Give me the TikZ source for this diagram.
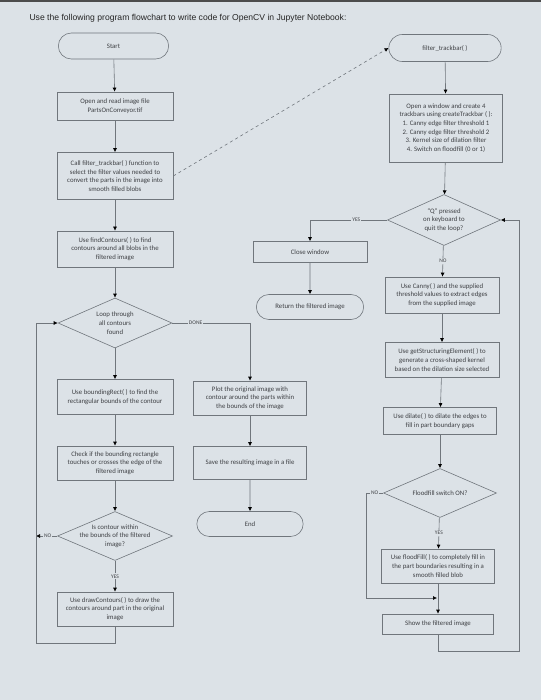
\documentclass[tikz,border=0pt]{standalone}
\usepackage{fontspec}
\setmainfont{Carlito}
\newfontfamily\titlefont{Liberation Sans}
\usetikzlibrary{
    positioning,       % Required for relative placement
    arrows.meta,       % Required for "Latex" arrowheads
    shapes.geometric,  % Required for the diamond decisions
    shapes.misc        % Required for the rounded terminators
}
\definecolor{paper}{RGB}{220,226,231}
\definecolor{edge}{RGB}{112,118,124}
\definecolor{ink}{RGB}{62,64,68}

\begin{document}
\begin{tikzpicture}[
        x=1pt, y=-1pt,
        >={Latex[length=4pt,width=4pt,black]},
        % Styles
        box/.style={rectangle, draw=edge, line width=0.6pt, text=ink, align=center, inner sep=2pt, minimum width=116pt, font=\fontsize{6.8}{8.7}\selectfont},
        term/.style={rounded rectangle, draw=edge, line width=0.6pt, text=ink, minimum width=116pt, minimum height=26pt, font=\fontsize{6.8}{8.7}\selectfont},
        decision/.style={diamond, draw=edge, line width=0.6pt, text=ink, align=center, aspect=2.35, inner xsep=0pt, inner ysep=-6pt, minimum width=114pt, minimum height=50pt, font=\fontsize{6.8}{8.7}\selectfont},
        flow/.style={->, draw=edge, line width=0.6pt},
        hint/.style={->, draw=edge, dashed, line width=0.6pt},
        tag/.style={fill=paper, text=ink, inner sep=1pt, font=\fontsize{5.5}{6}\selectfont}
    ]

    % --- Page ---
    \fill[paper] (0,0) rectangle (541,700);
    \useasboundingbox (0,0) rectangle (541,700);
    \fill[black!70] (0,0) rectangle (541,2);
    \node[anchor=west, font=\titlefont\fontsize{8.6}{10}\selectfont, text=black!85] (title) at (26,18)
        {Use the following program flowchart to write code for OpenCV in Jupyter Notebook:};

    % --- Coordinates ---
    \coordinate (noend) at (36,536);     % NO arrow meets the loop-back line
    \coordinate (loopback) at (36,643);  % Bottom-left corner of the contour loop
    \coordinate (nobend) at (366,493);   % Floodfill NO turns down here
    \coordinate (merge) at (438,598);    % NO branch joins above "Show"
    \coordinate (backright) at (519,651);% Bottom-right corner of the trackbar loop

    % --- 1. Main program (left column) ---
    \node[term, minimum width=117pt] (start) at (113.5,46) {Start};
    \node[box, minimum height=28pt] (open) at (115,106) {Open and read image file\\PartsOnConveyor.tif};
    \node[box, minimum height=47pt] (call) at (115,176) {Call filter\_trackbar( ) function to\\select the filter values needed to\\convert the parts in the image into\\smooth filled blobs};
    \node[box, minimum height=36pt] (find) at (115,249) {Use findContours( ) to find\\contours around all blobs in the\\filtered image};
    \node[decision] (loop) at (115,323) {Loop through\\all contours\\found};
    \node[box, minimum height=35pt] (bound) at (115,397) {Use boundingRect( ) to find the\\rectangular bounds of the contour};
    \node[box, minimum height=34pt] (check) at (115,463) {Check if the bounding rectangle\\touches or crosses the edge of the\\filtered image};
    \node[decision, minimum width=115pt, minimum height=49pt] (within) at (115,536) {Is contour within\\the bounds of the filtered\\image?};
    \node[box, minimum height=34pt] (drawc) at (115,609) {Use drawContours( ) to draw the\\contours around part in the original\\image};

    % --- 2. Middle column ---
    \node[box, minimum width=114pt, minimum height=21pt] (close) at (310,252) {Close window};
    \node[term, minimum width=114pt, minimum height=25pt] (return) at (310,307) {Return the filtered image};
    \node[box, minimum width=113pt, minimum height=34pt] (plot) at (250,398) {Plot the original image with\\contour around the parts within\\the bounds of the image};
    \node[box, minimum width=113pt, minimum height=33pt] (save) at (250,463) {Save the resulting image in a file};
    \node[term, minimum width=113pt, minimum height=25pt] (end) at (250,524) {End};

    % --- 3. filter_trackbar() (right column) ---
    \node[term, minimum width=119pt, minimum height=27pt] (trackbar) at (445,48) {filter\_trackbar( )};
    \node[box, minimum width=113pt, minimum height=68pt] (window) at (446,128) {Open a window and create 4\\trackbars using createTrackbar ( ):\\1. Canny edge filter threshold 1\\2. Canny edge filter threshold 2\\3. Kernel size of dilation filter\\4. Switch on floodfill (0 or 1)};
    \node[decision, minimum width=113pt, minimum height=51pt] (quit) at (444,220) {``Q'' pressed\\on keyboard to\\quit the loop?};
    \node[box, minimum width=114pt, minimum height=36pt] (canny) at (442,295) {Use Canny( ) and the supplied\\threshold values to extract edges\\from the supplied image};
    \node[box, minimum width=114pt, minimum height=35pt] (kernel) at (442,360) {Use getStructuringElement( ) to\\generate a cross-shaped kernel\\based on the dilation size selected};
    \node[box, minimum width=113pt, minimum height=27pt] (dilate) at (440,421) {Use dilate( ) to dilate the edges to\\fill in part boundary gaps};
    \node[decision, minimum width=113pt, minimum height=49pt] (flood) at (440,493) {Floodfill switch ON?};
    \node[box, minimum width=113pt, minimum height=34pt] (fill) at (438,566) {Use floodFill( ) to completely fill in\\the part boundaries resulting in a\\smooth filled blob};
    \node[box, minimum width=111pt, minimum height=20pt] (show) at (438,624) {Show the filtered image};

    % --- 4. Connectors ---
    \draw[flow] (start) -- (open);
    \draw[flow] (open) -- (call);
    \draw[flow] (call) -- (find);
    \draw[flow] (find) -- (loop);
    \draw[flow] (loop) -- (bound);
    \draw[flow] (bound) -- (check);
    \draw[flow] (check) -- (within);
    \draw[flow] (within) -- node[tag]{YES} (drawc);
    \draw[flow] (within.west) -- node[tag, pos=0.45]{NO} (noend);
    \draw[flow] (drawc.south) |- (loopback) |- (loop.west);
    \draw[flow] (loop.east) -| node[tag, pos=0.15]{DONE} (plot.north);
    \draw[flow] (plot) -- (save);
    \draw[flow] (save) -- (end);

    % call jumps to the trackbar routine
    \draw[hint] (call.east) -- (trackbar.west);

    \draw[flow] (trackbar) -- (window);
    \draw[flow] (window) -- (quit);
    \draw[flow] (quit.west) -| node[tag, pos=0.2]{YES} (close.north);
    \draw[flow] (close) -- (return);
    \draw[flow] (quit) -- node[tag]{NO} (canny);
    \draw[flow] (canny) -- (kernel);
    \draw[flow] (kernel) -- (dilate);
    \draw[flow] (dilate) -- (flood);
    \draw[flow] (flood) -- node[tag]{YES} (fill);
    \draw[flow, shorten >=1pt] (flood.west) -- node[tag]{NO} (nobend) |- (merge);
    \draw[flow] (fill) -- (show);
    \draw[flow] (show.south) |- (backright) |- (quit.east);

\end{tikzpicture}
\end{document}
